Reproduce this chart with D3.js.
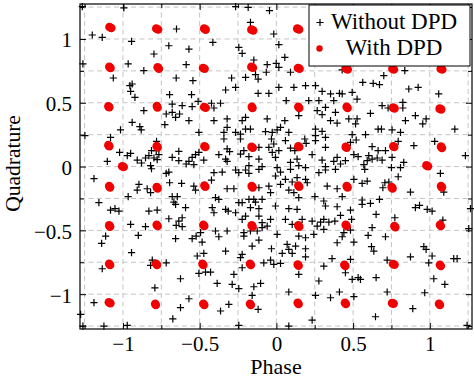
<!DOCTYPE html>
<html><head><meta charset="utf-8">
<script src="https://cdn.jsdelivr.net/npm/d3@7"></script>
<style>html,body{margin:0;padding:0;background:#fff;}svg{display:block;}</style>
</head><body>
<svg id="chart" width="474" height="378"></svg>
<script>
// ---- data (In-phase, Quadrature) ----
const withoutDpd = [
[-1.265,1.253],[-0.994,1.243],[-0.651,1.078],[-1.200,1.031],[-1.135,1.013],[-0.944,0.981],[-0.701,0.947],[-0.570,0.921],[-0.798,0.882],[-1.261,0.804],
[-0.966,0.804],[-0.588,0.799],[-0.864,0.752],[-1.063,0.694],[-0.653,0.694],[-0.544,0.673],[-0.940,0.647],[-0.955,0.634],[-0.950,0.590],[-0.922,0.543],
[-0.696,0.564],[-0.553,0.564],[-0.510,0.511],[-0.679,0.490],[-0.614,0.477],[-0.549,0.469],[-0.864,0.438],[-0.718,0.412],[-0.679,0.425],[-0.631,0.412],
[-0.657,0.386],[-0.570,0.360],[-0.940,0.347],[-0.890,0.313],[-0.881,0.287],[-0.727,0.328],[-1.016,0.287],[-1.248,0.242],[-0.505,0.268],[-1.081,0.229],
[-0.781,0.198],[-0.814,0.125],[-0.783,0.125],[-0.766,0.093],[-0.636,0.119],[-1.022,0.111],[-0.950,0.104],[-0.972,0.085],[-0.505,0.111],[-0.527,0.093],
[-0.831,0.085],[-0.853,0.067],[-0.798,0.067],[-0.777,0.054],[-0.679,0.072],[-0.636,0.046],[-0.549,0.072],[-0.570,0.041],[-0.538,0.015],[-0.473,0.051],
[-1.102,0.041],[-0.907,0.051],[-0.879,0.028],[-0.820,0.007],[-0.588,0.020],
[-0.266,1.253],[-0.184,1.248],[-0.045,1.222],[-0.169,1.130],[-0.017,1.039],[-0.414,0.974],[-0.245,0.934],[-0.223,0.887],[0.016,0.955],[0.055,0.856],
[-0.147,0.835],[-0.060,0.799],[-0.001,0.809],[0.016,0.778],[-0.066,0.739],[0.092,0.739],[-0.136,0.720],[-0.119,0.686],[-0.201,0.699],[-0.292,0.694],
[-0.266,0.621],[-0.331,0.600],[-0.119,0.574],[-0.049,0.574],[0.016,0.621],[0.114,0.621],[0.190,0.634],[0.255,0.634],[0.298,0.590],[0.353,0.569],
[0.411,0.574],[0.064,0.516],[0.211,0.516],[0.277,0.516],[0.374,0.516],[-0.423,0.496],[-0.364,0.496],[-0.407,0.459],[0.266,0.438],[0.320,0.464],
[0.298,0.407],[0.385,0.425],[-0.407,0.360],[-0.321,0.373],[-0.223,0.360],[-0.201,0.386],[-0.060,0.373],[0.055,0.360],[0.146,0.399],[0.353,0.360],
[0.396,0.341],[-0.321,0.307],[-0.342,0.268],[-0.266,0.268],[-0.201,0.294],[-0.169,0.294],[-0.234,0.255],[-0.071,0.274],[-0.027,0.268],[0.005,0.287],
[0.027,0.307],[0.081,0.268],[0.255,0.294],[0.298,0.276],[0.255,0.242],[0.320,0.229],[-0.342,0.216],[-0.234,0.216],[-0.032,0.216],[-0.017,0.177],
[0.059,0.203],[0.185,0.216],[0.194,0.182],[0.255,0.203],[-0.321,0.138],[-0.305,0.117],[-0.212,0.125],[-0.114,0.151],[-0.049,0.151],[-0.027,0.111],
[0.016,0.125],[0.092,0.145],[0.120,0.125],[0.320,0.151],[-0.375,0.093],[-0.331,0.059],[-0.321,0.041],[-0.234,0.098],[-0.179,0.078],[-0.114,0.059],
[-0.006,0.072],[0.135,0.059],[0.233,0.093],[0.298,0.051],[0.396,0.072],[0.374,0.041],[-0.179,0.007],[-0.093,-0.001],[0.092,0.033],[0.146,0.007],
[0.320,-0.001],[0.418,0.020],
[0.429,0.757],[0.563,0.660],[0.631,0.652],[0.672,0.642],[0.700,0.712],[0.837,0.752],[0.863,0.608],[0.924,0.621],[1.058,0.569],[0.429,0.569],
[0.494,0.582],[0.526,0.529],[0.689,0.477],[0.728,0.459],[0.824,0.503],[0.824,0.459],[0.613,0.417],[0.472,0.373],[0.526,0.373],[0.516,0.334],
[0.841,0.360],[0.906,0.399],[0.976,0.373],[0.954,0.334],[0.663,0.294],[0.685,0.294],[0.754,0.287],[0.809,0.268],[1.163,0.294],[0.494,0.250],
[0.581,0.250],[0.520,0.208],[0.483,0.190],[0.794,0.198],[0.896,0.164],[1.032,0.198],[0.624,0.156],[0.663,0.125],[0.711,0.125],[0.505,0.093],
[0.533,0.078],[0.602,0.085],[0.624,0.059],[0.657,0.067],[0.689,0.051],[0.592,0.046],[0.450,0.046],[0.754,0.072],[0.830,0.033],[0.570,0.015],
[1.232,0.085],
[-1.189,-0.095],[-0.814,-0.017],[-0.701,-0.043],[-0.718,-0.053],[-0.896,-0.140],[-0.907,-0.184],[-0.842,-0.174],[-0.820,-0.205],[-0.966,-0.236],[-0.696,-0.127],
[-0.618,-0.132],[-0.538,-0.153],[-0.527,-0.184],[-0.679,-0.236],[-0.646,-0.236],[-0.668,-0.278],[-0.657,-0.296],[-0.592,-0.322],[-1.157,-0.283],[-1.081,-0.341],
[-1.052,-0.330],[-1.026,-0.349],[-0.831,-0.349],[-0.777,-0.341],[-0.701,-0.409],[-0.614,-0.401],[-0.636,-0.427],[-0.653,-0.461],[-0.614,-0.471],[-0.950,-0.453],
[-0.853,-0.471],[-1.113,-0.545],[-1.139,-0.602],[-0.900,-0.539],[-0.657,-0.565],[-0.549,-0.565],[-0.523,-0.545],[-0.494,-0.518],[-0.484,-0.592],[-0.944,-0.675],
[-0.516,-0.701],[-0.473,-0.680],[-0.809,-0.733],[-0.820,-0.774],[-0.718,-0.754],[-1.135,-0.801],[-0.625,-0.879],[-0.505,-0.837],[-0.462,-0.827],[-0.792,-0.950],
[-0.570,-1.036],[-1.189,-1.067],[-0.625,-1.106],[-1.276,-1.158],[-0.675,-1.193],[-1.261,-1.250],[-1.124,-1.250],[-0.972,-1.245],
[-0.423,-0.106],[-0.407,-0.048],[-0.353,-0.043],[-0.266,-0.027],[-0.245,-0.048],[-0.201,-0.027],[-0.179,-0.053],[-0.114,-0.022],[0.005,-0.009],[0.027,-0.043],
[0.092,-0.022],[0.190,-0.009],[0.277,-0.048],[0.320,-0.027],[0.385,-0.022],[-0.006,-0.074],[0.059,-0.100],[0.103,-0.121],[0.135,-0.087],[0.190,-0.100],
[0.201,-0.127],[0.331,-0.153],[0.396,-0.174],[-0.321,-0.174],[-0.277,-0.174],[-0.397,-0.244],[-0.375,-0.257],[-0.114,-0.166],[-0.049,-0.153],[-0.038,-0.205],
[0.027,-0.140],[0.081,-0.184],[0.114,-0.205],[0.146,-0.244],[-0.179,-0.257],[-0.147,-0.257],[-0.136,-0.278],[-0.093,-0.257],[-0.223,-0.283],[-0.245,-0.283],
[-0.169,-0.322],[-0.114,-0.330],[-0.006,-0.309],[0.081,-0.330],[0.135,-0.336],[0.251,-0.236],[0.309,-0.270],[0.320,-0.309],[0.396,-0.315],[-0.418,-0.322],
[-0.407,-0.362],[-0.331,-0.336],[-0.314,-0.349],[-0.266,-0.362],[-0.223,-0.414],[-0.201,-0.388],[-0.114,-0.388],[-0.093,-0.440],[-0.060,-0.466],[-0.038,-0.414],
[0.059,-0.414],[0.103,-0.453],[0.168,-0.414],[0.233,-0.427],[0.266,-0.466],[0.288,-0.435],[0.309,-0.414],[0.342,-0.435],[0.381,-0.427],[0.244,-0.532],
[-0.397,-0.505],[-0.375,-0.550],[-0.321,-0.505],[-0.212,-0.518],[-0.212,-0.545],[-0.169,-0.505],[-0.125,-0.505],[-0.093,-0.479],[0.005,-0.532],[0.146,-0.545],
[0.190,-0.558],[0.309,-0.492],[0.396,-0.597],[-0.158,-0.623],[-0.114,-0.576],[-0.032,-0.644],[0.070,-0.610],[0.081,-0.649],[0.125,-0.623],[0.038,-0.680],
[0.103,-0.680],[0.190,-0.644],[0.190,-0.707],[-0.331,-0.662],[-0.223,-0.688],[-0.234,-0.714],[-0.082,-0.754],[-0.038,-0.733],[-0.017,-0.767],[0.027,-0.759],
[-0.223,-0.793],[-0.429,-0.827],[-0.277,-0.845],[0.277,-0.897],[0.309,-0.780],[0.363,-0.722],[0.146,-0.845],[-0.386,-0.916],[-0.288,-0.923],[-0.245,-0.957],
[-0.147,-0.942],[-0.103,-0.916],[-0.158,-1.010],[0.081,-0.983],[0.255,-1.010],[0.353,-1.028],[-0.310,-1.080],[-0.364,-1.132],[-0.119,-1.119],[0.233,-1.203],
[0.081,-1.250],[-0.245,-1.245],
[0.576,-0.022],[0.750,-0.009],[0.809,-0.009],[0.794,-0.080],[1.069,-0.053],[0.505,-0.100],[0.592,-0.114],[0.559,-0.132],[0.707,-0.127],[0.733,-0.121],
[0.694,-0.166],[0.429,-0.236],[0.874,-0.200],[1.091,-0.200],[0.559,-0.262],[0.559,-0.296],[0.613,-0.289],[0.672,-0.257],[0.906,-0.322],[0.933,-0.304],
[0.983,-0.336],[1.015,-0.349],[1.265,-0.330],[0.483,-0.341],[0.650,-0.375],[0.418,-0.383],[0.772,-0.401],[1.085,-0.419],[0.490,-0.414],[0.624,-0.479],
[0.483,-0.498],[1.254,-0.487],[0.440,-0.518],[0.429,-0.550],[0.598,-0.539],[0.711,-0.550],[0.505,-0.592],[0.620,-0.628],[0.635,-0.662],[0.961,-0.628],
[0.976,-0.649],[0.874,-0.707],[1.015,-0.701],[0.993,-0.754],[0.722,-0.733],[0.483,-0.727],[1.156,-0.722],[1.178,-0.722],[0.450,-0.832],[0.494,-0.884],
[0.533,-0.871],[0.548,-0.884],[0.650,-0.871],[1.026,-0.879],[1.098,-0.923],[0.411,-0.983],[0.722,-0.983],[0.967,-0.989],[0.505,-1.020],[0.889,-1.114],
[0.646,-1.177],[1.243,-1.245]
];

const withDpd = [
[-1.088,1.094],[-1.076,1.086],[-0.783,1.082],[-0.771,1.074],[-0.471,1.082],[-0.461,1.073],[-0.163,1.073],[-0.151,1.066],
[0.136,1.081],[0.148,1.074],[0.458,1.084],[0.468,1.076],[0.767,1.083],[0.777,1.077],[1.075,1.084],[1.085,1.076],
[-1.089,0.782],[-1.081,0.773],[-0.774,0.778],[-0.766,0.766],[-0.478,0.773],[-0.468,0.767],[-0.163,0.781],[-0.153,0.774],
[0.141,0.773],[0.151,0.767],[0.455,0.767],[0.465,0.761],[0.756,0.767],[0.766,0.761],[1.071,0.767],[1.081,0.761],
[-1.095,0.472],[-1.089,0.465],[-0.779,0.474],[-0.775,0.463],[-0.471,0.467],[-0.461,0.461],[-0.160,0.469],[-0.156,0.459],
[0.143,0.469],[0.149,0.459],[0.458,0.469],[0.464,0.459],[0.760,0.462],[0.770,0.456],[1.064,0.454],[1.074,0.448],
[-1.095,0.168],[-1.089,0.159],[-0.780,0.160],[-0.774,0.152],[-0.469,0.159],[-0.463,0.153],[-0.162,0.154],[-0.154,0.148],
[0.143,0.159],[0.149,0.153],[0.452,0.154],[0.458,0.148],[0.762,0.159],[0.768,0.153],[1.073,0.156],[1.079,0.146],
[-1.005,0.003],[-0.995,-0.003],[0.978,0.009],[0.988,0.003],
[-1.090,-0.153],[-1.084,-0.163],[-0.780,-0.161],[-0.774,-0.171],[-0.469,-0.148],[-0.463,-0.158],[-0.161,-0.153],[-0.155,-0.163],
[0.143,-0.148],[0.149,-0.158],[0.458,-0.153],[0.464,-0.163],[0.751,-0.161],[0.757,-0.171],[1.073,-0.153],[1.079,-0.163],
[-1.090,-0.461],[-1.084,-0.471],[-0.780,-0.456],[-0.774,-0.466],[-0.476,-0.456],[-0.470,-0.466],[-0.161,-0.461],[-0.155,-0.471],
[0.143,-0.461],[0.149,-0.471],[0.452,-0.456],[0.458,-0.466],[0.769,-0.466],[0.775,-0.476],[1.066,-0.456],[1.072,-0.466],
[-1.090,-0.762],[-1.084,-0.772],[-0.784,-0.762],[-0.778,-0.772],[-0.482,-0.762],[-0.476,-0.772],[-0.172,-0.762],[-0.166,-0.772],
[0.139,-0.767],[0.145,-0.777],[0.443,-0.769],[0.449,-0.779],[0.760,-0.764],[0.770,-0.770],[1.066,-0.769],[1.072,-0.779],
[-1.092,-1.063],[-1.082,-1.071],[-0.790,-1.075],[-0.786,-1.085],[-0.476,-1.075],[-0.470,-1.085],[-0.172,-1.075],[-0.166,-1.085],
[0.139,-1.067],[0.145,-1.077],[0.447,-1.067],[0.453,-1.077],[0.754,-1.070],[0.764,-1.074],[1.060,-1.075],[1.066,-1.085]
];

const xTicks = [-1, -0.5, 0, 0.5, 1];
const yTicks = [-1, -0.5, 0, 0.5, 1];
const minorTicks = [-1.25, -0.75, -0.25, 0.25, 0.75, 1.25];
const gridValues = [-1.25, -1, -0.75, -0.5, -0.25, 0, 0.25, 0.5, 0.75, 1, 1.25];
const seriesNames = ["Without DPD", "With DPD"];
const xLabel = "Phase", yLabel = "Quadrature";

// ---- layout ----
const L = 80, R = 472, T = 4, B = 329;
const FONT = "'Liberation Serif', 'Times New Roman', serif";
const x = d3.scaleLinear().domain([-1.28, 1.275]).range([L, R]);
const y = d3.scaleLinear().domain([-1.273, 1.274]).range([B, T]);
const fmt = d => d3.format("")(d);

const svg = d3.select("#chart");

// grid
const grid = svg.append("g").attr("stroke", "#c4c4c4").attr("stroke-width", 1).attr("stroke-dasharray", "5,3.5");
grid.selectAll("line.v").data(gridValues).join("line").attr("class", "v")
  .attr("x1", d => x(d)).attr("x2", d => x(d)).attr("y1", T).attr("y2", B);
grid.selectAll("line.h").data(gridValues).join("line").attr("class", "h")
  .attr("y1", d => y(d)).attr("y2", d => y(d)).attr("x1", L).attr("x2", R);

// without DPD: plus markers
svg.append("g").selectAll("path").data(withoutDpd).join("path")
  .attr("transform", d => `translate(${x(d[0])},${y(d[1])})`)
  .attr("d", "M-3.6,0H3.6M0,-3.6V3.6")
  .attr("stroke", "#000").attr("stroke-width", 1.2).attr("fill", "none");

// with DPD: red dots
svg.append("g").selectAll("circle").data(withDpd).join("circle")
  .attr("cx", d => x(d[0])).attr("cy", d => y(d[1])).attr("r", 4.3)
  .attr("fill", "#f00000");

// axes (inward ticks on all sides)
function styleAxis(g) {
  g.select(".domain").remove();
  g.selectAll(".tick line").attr("stroke", "#000").attr("stroke-width", 1);
  g.selectAll(".tick text").attr("font-family", FONT).attr("font-size", 21).attr("fill", "#000");
}
svg.append("g").attr("transform", `translate(0,${B})`)
  .call(d3.axisBottom(x).tickValues(xTicks).tickFormat(fmt).tickSizeInner(-6).tickSizeOuter(0).tickPadding(7))
  .call(styleAxis);
svg.append("g").attr("transform", `translate(${L},0)`)
  .call(d3.axisLeft(y).tickValues(yTicks).tickFormat(fmt).tickSizeInner(-6).tickSizeOuter(0).tickPadding(8))
  .call(styleAxis).selectAll(".tick text").attr("dy", "0.38em");
svg.append("g").attr("transform", `translate(0,${T})`)
  .call(d3.axisTop(x).tickValues(xTicks).tickFormat("").tickSizeInner(-6).tickSizeOuter(0)).call(styleAxis);
svg.append("g").attr("transform", `translate(${R},0)`)
  .call(d3.axisRight(y).tickValues(yTicks).tickFormat("").tickSizeInner(-6).tickSizeOuter(0)).call(styleAxis);
// minor ticks
svg.append("g").attr("transform", `translate(0,${B})`)
  .call(d3.axisBottom(x).tickValues(minorTicks).tickFormat("").tickSizeInner(-4).tickSizeOuter(0)).call(styleAxis);
svg.append("g").attr("transform", `translate(0,${T})`)
  .call(d3.axisTop(x).tickValues(minorTicks).tickFormat("").tickSizeInner(-4).tickSizeOuter(0)).call(styleAxis);
svg.append("g").attr("transform", `translate(${L},0)`)
  .call(d3.axisLeft(y).tickValues(minorTicks).tickFormat("").tickSizeInner(-4).tickSizeOuter(0)).call(styleAxis);
svg.append("g").attr("transform", `translate(${R},0)`)
  .call(d3.axisRight(y).tickValues(minorTicks).tickFormat("").tickSizeInner(-4).tickSizeOuter(0)).call(styleAxis);

// frame
svg.append("rect").attr("x", L).attr("y", T).attr("width", R - L).attr("height", B - T)
  .attr("fill", "none").attr("stroke", "#000").attr("stroke-width", 1.2);

// axis labels
svg.append("text").attr("x", (L + R) / 2).attr("y", 374).attr("text-anchor", "middle")
  .attr("font-family", FONT).attr("font-size", 22).text(xLabel);
svg.append("text").attr("transform", `translate(20,${(T + B) / 2 - 3}) rotate(-90)`).attr("text-anchor", "middle")
  .attr("font-family", FONT).attr("font-size", 21.5).text(yLabel);

// legend
const lg = svg.append("g");
lg.append("rect").attr("x", 309).attr("y", 5).attr("width", 161).attr("height", 61)
  .attr("fill", "#fff").attr("stroke", "#000").attr("stroke-width", 1);
lg.append("path").attr("transform", "translate(320,22.5)").attr("d", "M-3.6,0H3.6M0,-3.6V3.6")
  .attr("stroke", "#000").attr("stroke-width", 1.2);
lg.append("circle").attr("cx", 319.5).attr("cy", 48.5).attr("r", 3.2).attr("fill", "#f00000");
lg.append("text").attr("x", 394).attr("y", 28.5).attr("text-anchor", "middle")
  .attr("font-family", FONT).attr("font-size", 23).text(seriesNames[0]);
lg.append("text").attr("x", 394).attr("y", 55).attr("text-anchor", "middle")
  .attr("font-family", FONT).attr("font-size", 23).text(seriesNames[1]);
</script>
</body></html>
